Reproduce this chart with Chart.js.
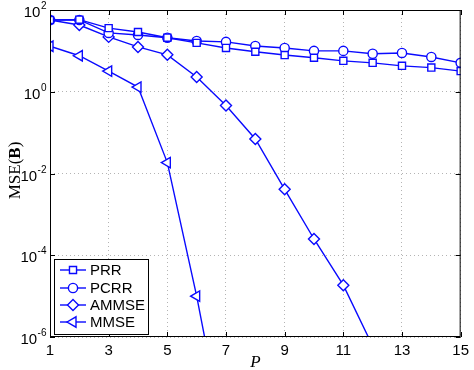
<!DOCTYPE html>
<html>
<head>
<meta charset="utf-8">
<script src="https://cdn.jsdelivr.net/npm/chart.js@4/dist/chart.umd.min.js"></script>
<style>
  body { margin: 0; background: #fff; }
  canvas { display: block; }
</style>
</head>
<body>
<canvas id="mse" width="474" height="370"></canvas>
<script>
// P values on the x axis
const pValues = [1, 2, 3, 4, 5, 6, 7, 8, 9, 10, 11, 12, 13, 14, 15];

// MSE(B) (log scale)
const prr   = [57, 58, 36, 29, 21, 15.7, 11.8, 9.5, 7.9, 6.8, 5.7, 5.1, 4.3, 3.9, 3.2];
const pcrr  = [57, 57, 27.5, 24.5, 21, 17.5, 16.6, 13.2, 11.8, 10, 10, 8.5, 8.9, 7.1, 5.1];
const ammse = [57, 43, 22, 12.5, 8, 2.3, 0.46, 0.07, 0.0041, 2.5e-4, 1.85e-5, 6e-7];
const mmse  = [13, 7.6, 3.2, 1.3, 0.0185, 1e-5, 2e-9];

const xTicks = [1, 3, 5, 7, 9, 11, 13, 15];
const yTicks = [1e-6, 1e-4, 1e-2, 1, 1e2];
const yTickExp = ['-6', '-4', '-2', '0', '2'];

const blue = '#0a0aff';

function series(label, values, style, radius, rotation) {
  return {
    label: label,
    data: values.map((v, i) => ({ x: pValues[i], y: v })),
    borderColor: blue,
    borderWidth: 1.4,
    backgroundColor: '#fff',
    pointStyle: style,
    pointRadius: radius,
    pointRotation: rotation || 0,
    pointBorderColor: blue,
    pointBackgroundColor: '#fff',
    pointBorderWidth: 1.4,
    tension: 0
  };
}

const datasets = [
  series('PRR', prr, 'rect', 5),
  series('PCRR', pcrr, 'circle', 4.6),
  series('AMMSE', ammse, 'rectRot', 5.5),
  series('MMSE', mmse, 'triangle', 6, -90)
];

// frame, inward ticks, axis labels and legend box
const decor = {
  id: 'decor',
  afterDraw(chart) {
    const ctx = chart.ctx;
    const a = chart.chartArea;
    const xs = chart.scales.x, ys = chart.scales.y;
    ctx.save();
    ctx.strokeStyle = '#000';
    ctx.lineWidth = 1;
    ctx.strokeRect(a.left + 0.5, a.top + 0.5, a.right - a.left - 1, a.bottom - a.top - 1);
    ctx.beginPath();
    xTicks.forEach(t => {
      const px = Math.round(xs.getPixelForValue(t)) + 0.5;
      ctx.moveTo(px, a.bottom); ctx.lineTo(px, a.bottom - 5);
      ctx.moveTo(px, a.top); ctx.lineTo(px, a.top + 5);
    });
    yTicks.forEach(t => {
      const py = Math.round(ys.getPixelForValue(t)) + 0.5;
      ctx.moveTo(a.left, py); ctx.lineTo(a.left + 5, py);
      ctx.moveTo(a.right, py); ctx.lineTo(a.right - 5, py);
    });
    ctx.stroke();

    // y tick labels as 10 with raised exponent
    ctx.fillStyle = '#000';
    ctx.textBaseline = 'alphabetic';
    ctx.textAlign = 'left';
    yTicks.forEach((t, i) => {
      const py = ys.getPixelForValue(t);
      ctx.font = '10px "Liberation Sans"';
      const ew = ctx.measureText(yTickExp[i]).width;
      ctx.font = '15px "Liberation Sans"';
      const bw = ctx.measureText('10').width;
      const x0 = a.left - 4 - ew - bw;
      ctx.fillText('10', x0, py + 7);
      ctx.font = '10px "Liberation Sans"';
      ctx.fillText(yTickExp[i], x0 + bw + 0.5, py - 1);
    });

    // x axis label
    ctx.font = 'italic 17px "Liberation Serif"';
    ctx.textAlign = 'center';
    ctx.textBaseline = 'middle';
    ctx.fillText('P', (a.left + a.right) / 2, 363);

    // y axis label: MSE(B) with bold B
    ctx.save();
    ctx.translate(16, (a.top + a.bottom) / 2 - 3);
    ctx.rotate(-Math.PI / 2);
    ctx.textAlign = 'left';
    const parts = [['MSE(', '17px "Liberation Serif"'], ['B', 'bold 17px "Liberation Serif"'], [')', '17px "Liberation Serif"']];
    let w = 0;
    parts.forEach(p => { ctx.font = p[1]; w += ctx.measureText(p[0]).width; });
    let x = -w / 2;
    parts.forEach(p => { ctx.font = p[1]; ctx.fillText(p[0], x, 0); x += ctx.measureText(p[0]).width; });
    ctx.restore();

    // legend
    const lx = 54, ly = 259, lw = 94, lh = 75;
    ctx.fillStyle = '#fff';
    ctx.fillRect(lx, ly, lw, lh);
    ctx.strokeStyle = '#000';
    ctx.lineWidth = 1;
    ctx.strokeRect(lx + 0.5, ly + 0.5, lw, lh);
    ctx.font = '15px "Liberation Sans"';
    ctx.textAlign = 'left';
    ctx.textBaseline = 'middle';
    const rows = [270, 288, 305, 322];
    chart.data.datasets.forEach((ds, i) => {
      const y = rows[i];
      ctx.strokeStyle = blue;
      ctx.lineWidth = 1.4;
      ctx.beginPath();
      ctx.moveTo(60, y); ctx.lineTo(86, y);
      ctx.stroke();
      ctx.fillStyle = '#fff';
      Chart.helpers.drawPoint(ctx, {
        pointStyle: ds.pointStyle, radius: ds.pointRadius, rotation: ds.pointRotation, borderWidth: 1.4
      }, 73, y);
      ctx.fillStyle = '#000';
      ctx.fillText(ds.label, 90, y + 1);
    });
    ctx.restore();
  }
};

new Chart(document.getElementById('mse'), {
  type: 'line',
  data: { datasets: datasets },
  options: {
    responsive: false,
    animation: false,
    layout: { padding: { top: 10, right: 8, left: 0, bottom: 0 } },
    plugins: { legend: { display: false }, tooltip: { enabled: false } },
    scales: {
      x: {
        type: 'linear',
        min: 1,
        max: 15,
        afterBuildTicks: s => { s.ticks = xTicks.map(v => ({ value: v })); },
        afterFit: s => { s.height = 33; },
        ticks: { color: '#000', font: { family: 'Liberation Sans', size: 15 }, padding: 5, maxRotation: 0 },
        grid: { color: '#b4b4b4', drawTicks: false },
        border: { display: false, dash: [1, 3] }
      },
      y: {
        type: 'logarithmic',
        min: 1e-6,
        max: 1e2,
        afterBuildTicks: s => { s.ticks = yTicks.map(v => ({ value: v })); },
        afterFit: s => { s.width = 50; },
        ticks: { display: false },
        grid: { color: '#b4b4b4', drawTicks: false },
        border: { display: false, dash: [1, 3] }
      }
    }
  },
  plugins: [decor]
});
</script>
</body>
</html>
